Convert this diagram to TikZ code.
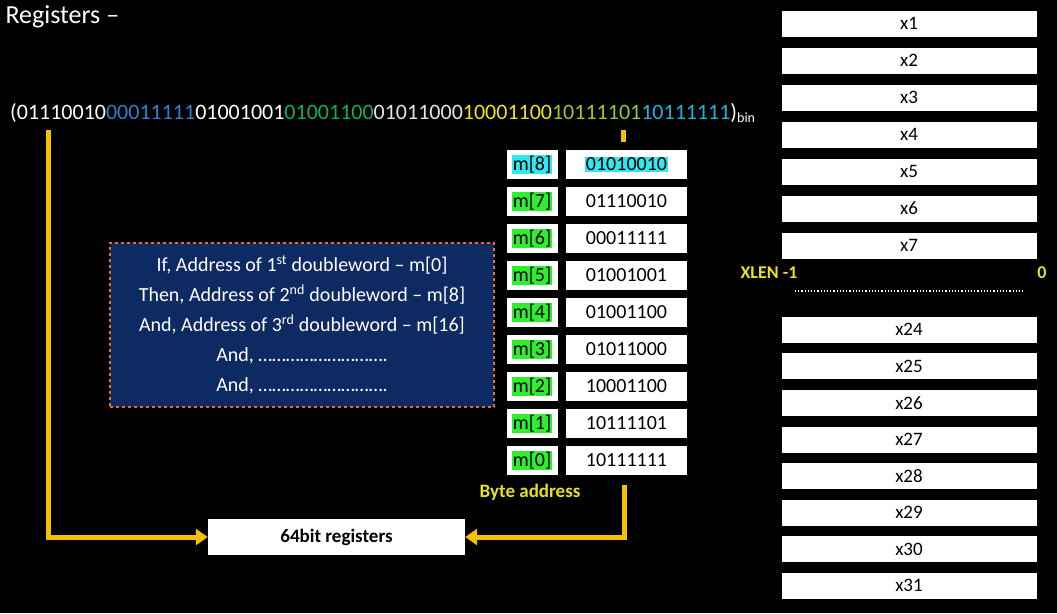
\documentclass[tikz,border=0pt]{standalone}
\usepackage{fontspec}
\setmainfont{Carlito}
\usetikzlibrary{arrows.meta}
\definecolor{yel}{HTML}{F5C000}
\definecolor{navy}{HTML}{0E2A62}
\definecolor{bl}{HTML}{2F7FD0}
\definecolor{gr}{HTML}{10B050}
\definecolor{yl}{HTML}{E8E81A}
\definecolor{ol}{HTML}{9AC830}
\definecolor{cy}{HTML}{20B0E0}
\definecolor{lgr}{HTML}{2EEE2E}
\definecolor{lcy}{HTML}{30E8F0}
\definecolor{lbl}{HTML}{E8E020}
\begin{document}
\begin{tikzpicture}[x=1pt,y=-1pt,
  reg/.style={draw=black,fill=white,minimum width=256pt,minimum height=27pt,inner sep=0pt,font=\fontsize{19}{19}\selectfont},
  mval/.style={fill=white,minimum width=121pt,minimum height=29pt,inner sep=0pt,font=\fontsize{20}{20}\selectfont},
  mlab/.style={fill=white,minimum width=51pt,minimum height=29pt,inner sep=0pt},
  mhl/.style={inner sep=1pt,font=\fontsize{20}{20}\selectfont},
  arr/.style={yel,line width=5pt,-{Triangle[length=12pt,width=16pt]}}]
\useasboundingbox[fill=black] (0,0) rectangle (1057,613);
\node[white,anchor=north west,font=\fontsize{26}{26}\selectfont] (title) at (2,2) {Registers --};
\node[white,anchor=west,font=\fontsize{22}{22}\selectfont,inner sep=0pt] (bits) at (10,113)
 {(01110010\textcolor{bl}{00011111}01001001\textcolor{gr}{01001100}\textcolor{white!80!gray}{01011000}\textcolor{yl}{10001100}\textcolor{ol}{10111101}\textcolor{cy}{10111111})$_{\textrm{\fontsize{14}{14}\selectfont bin}}$};
% registers
\foreach \n [count=\i from 0] in {1,...,7}
  \node[reg] (x\n) at (909,{23.5+37*\i}) {x\n};
\foreach \n [count=\i from 0] in {24,...,31}
  \node[reg] (x\n) at (909,{329.5+36.6*\i}) {x\n};
\node[lbl,font=\bfseries\fontsize{18}{18}\selectfont] (xl) at (769,273) {XLEN -1};
\node[lbl,font=\bfseries\fontsize{18}{18}\selectfont] (z) at (1042,273) {0};
\coordinate (d1) at (795,291); \coordinate (d2) at (1025,291);
\draw[white,dotted,line width=1.2pt] (d1) -- (d2);
% memory
\foreach \k [count=\i from 0] in {8,7,...,0}{
  \node[mlab] (ml\k) at (532,{164.5+37*\i}) {};
}
\foreach \k/\v [count=\i from 0] in {7/01110010,6/00011111,5/01001001,4/01001100,3/01011000,2/10001100,1/10111101,0/10111111}{
  \node[mhl,fill=lgr] at (ml\k) {m[\k]};
  \node[mval] (mv\k) at (626.5,{201.5+37*\i}) {\v};
}
\node[mhl,fill=lcy] at (ml8) {m[8]};
\node[mval] (mv8) at (626.5,164.5) {};
\node[mhl,fill=lcy] at (mv8) {01010010};
\node[lbl,font=\bfseries\fontsize{19}{19}\selectfont] (ba) at (530,492) {Byte address};
% info box
\node[draw={rgb,255:red,230;green,110;blue,40},dashed,line width=1.5pt,fill=navy,minimum width=384pt,minimum height=164pt,text=white,align=center,font=\fontsize{20}{30}\selectfont] (info) at (302,325)
 {If, Address of 1\textsuperscript{st} doubleword -- m[0]\\
  Then, Address of 2\textsuperscript{nd} doubleword -- m[8]\\
  And, Address of 3\textsuperscript{rd} doubleword -- m[16]\\
  And, ……………………….\\
  And, ……………………….};
% target
\node[fill=white,minimum width=257pt,minimum height=36pt,font=\bfseries\fontsize{19}{19}\selectfont] (r64) at (336.5,537) {64bit registers};
\coordinate (a1) at (48,130); \coordinate (a2) at (48,537);
\coordinate (b1) at (624,485); \coordinate (b2) at (624,537);
\draw[arr] (a1) -- (a2) -- (r64.west);
\draw[arr] (b1) -- (b2) -- (r64.east);
\coordinate (t1) at (623,130); \coordinate (t2) at (623,142);
\draw[yel,line width=5pt] (t1) -- (t2);
\end{tikzpicture}
\end{document}
